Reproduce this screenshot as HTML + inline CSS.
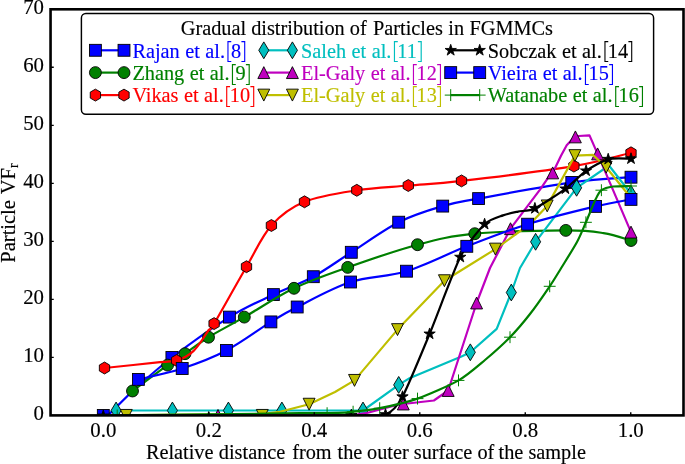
<!DOCTYPE html>
<html><head><meta charset="utf-8"><title>Gradual distribution of Particles in FGMMCs</title>
<style>html,body{margin:0;padding:0;background:#fff}svg{display:block}text{font-family:"Liberation Serif",serif;font-size:20.3px;fill:#000;stroke:#000;stroke-width:0.15px}.tl{font-size:20.8px}.br{font-family:"DejaVu Sans Light","DejaVu Sans","Liberation Sans",sans-serif;font-weight:200;font-size:23.3px;stroke:none}</style></head><body>
<svg width="685" height="464" viewBox="0 0 685 464">
<rect width="685" height="464" fill="#fff"/>
<defs><clipPath id="ax"><rect x="50.55" y="9.3" width="632.95" height="406.1"/></clipPath></defs>
<g clip-path="url(#ax)">
<path d="M103.3 415.4L108 415.4L132.5 391L132.5 391C139.07 385.42 155.75 369.82 171.9 357.5C188.05 345.18 212.48 327.58 229.4 317.1C246.32 306.62 259.42 301.33 273.4 294.6C287.38 287.87 300.32 283.75 313.3 276.7C326.28 269.65 337.07 261.38 351.3 252.3C365.53 243.22 383.47 229.9 398.7 222.2C413.93 214.5 429.38 210.03 442.7 206.1C456.02 202.17 457.08 202.55 478.6 198.6C500.12 194.65 546.4 185.97 571.8 182.4C597.2 178.83 621.13 178.07 631 177.2" fill="none" stroke="#0000ff" stroke-width="2.2" stroke-linejoin="round" stroke-linecap="butt"/>
<rect x="97.35" y="409.45" width="11.9" height="11.9" fill="#0000ff" stroke="#000" stroke-width="0.9" stroke-linejoin="miter"/>
<rect x="165.95" y="351.55" width="11.9" height="11.9" fill="#0000ff" stroke="#000" stroke-width="0.9" stroke-linejoin="miter"/>
<rect x="223.45" y="311.15" width="11.9" height="11.9" fill="#0000ff" stroke="#000" stroke-width="0.9" stroke-linejoin="miter"/>
<rect x="267.45" y="288.65" width="11.9" height="11.9" fill="#0000ff" stroke="#000" stroke-width="0.9" stroke-linejoin="miter"/>
<rect x="307.35" y="270.75" width="11.9" height="11.9" fill="#0000ff" stroke="#000" stroke-width="0.9" stroke-linejoin="miter"/>
<rect x="345.35" y="246.35" width="11.9" height="11.9" fill="#0000ff" stroke="#000" stroke-width="0.9" stroke-linejoin="miter"/>
<rect x="392.75" y="216.25" width="11.9" height="11.9" fill="#0000ff" stroke="#000" stroke-width="0.9" stroke-linejoin="miter"/>
<rect x="436.75" y="200.15" width="11.9" height="11.9" fill="#0000ff" stroke="#000" stroke-width="0.9" stroke-linejoin="miter"/>
<rect x="472.65" y="192.65" width="11.9" height="11.9" fill="#0000ff" stroke="#000" stroke-width="0.9" stroke-linejoin="miter"/>
<rect x="565.85" y="176.45" width="11.9" height="11.9" fill="#0000ff" stroke="#000" stroke-width="0.9" stroke-linejoin="miter"/>
<rect x="625.05" y="171.25" width="11.9" height="11.9" fill="#0000ff" stroke="#000" stroke-width="0.9" stroke-linejoin="miter"/>
<path d="M132.5 391C138.35 386.68 158.85 371.32 167.6 365.1C176.35 358.88 178.18 358.35 185 353.7C191.82 349.05 198.62 343.3 208.5 337.2C218.38 331.1 230.05 325.25 244.3 317.1C258.55 308.95 276.77 296.58 294 288.3C311.23 280.02 327.12 274.67 347.7 267.4C368.28 260.13 396.32 250.32 417.5 244.7C438.68 239.08 450.08 236.08 474.8 233.7C499.52 231.32 544.35 230.5 565.8 230.4C587.25 230.3 592.63 231.42 603.5 233.1C614.37 234.78 626.42 239.27 631 240.5" fill="none" stroke="#008000" stroke-width="2.2" stroke-linejoin="round" stroke-linecap="butt"/>
<circle cx="132.5" cy="391" r="5.95" fill="#008000" stroke="#000" stroke-width="0.9" stroke-linejoin="miter"/>
<circle cx="167.6" cy="365.1" r="5.95" fill="#008000" stroke="#000" stroke-width="0.9" stroke-linejoin="miter"/>
<circle cx="185" cy="353.7" r="5.95" fill="#008000" stroke="#000" stroke-width="0.9" stroke-linejoin="miter"/>
<circle cx="208.5" cy="337.2" r="5.95" fill="#008000" stroke="#000" stroke-width="0.9" stroke-linejoin="miter"/>
<circle cx="244.3" cy="317.1" r="5.95" fill="#008000" stroke="#000" stroke-width="0.9" stroke-linejoin="miter"/>
<circle cx="294" cy="288.3" r="5.95" fill="#008000" stroke="#000" stroke-width="0.9" stroke-linejoin="miter"/>
<circle cx="347.7" cy="267.4" r="5.95" fill="#008000" stroke="#000" stroke-width="0.9" stroke-linejoin="miter"/>
<circle cx="417.5" cy="244.7" r="5.95" fill="#008000" stroke="#000" stroke-width="0.9" stroke-linejoin="miter"/>
<circle cx="474.8" cy="233.7" r="5.95" fill="#008000" stroke="#000" stroke-width="0.9" stroke-linejoin="miter"/>
<circle cx="565.8" cy="230.4" r="5.95" fill="#008000" stroke="#000" stroke-width="0.9" stroke-linejoin="miter"/>
<circle cx="631" cy="240.5" r="5.95" fill="#008000" stroke="#000" stroke-width="0.9" stroke-linejoin="miter"/>
<path d="M104.5 368C113.75 367.03 147.98 363.45 160 362.2C172.02 360.95 172.27 361.45 176.6 360.5C180.93 359.55 183.17 358.1 186 356.5C188.83 354.9 191.07 353.42 193.6 350.9C196.13 348.38 198.68 344.88 201.2 341.4C203.72 337.92 206.55 332.97 208.7 330C210.85 327.03 207.8 334.15 214.1 323.6C220.4 313.05 236.95 283.05 246.5 266.7C256.05 250.35 261.73 236.32 271.4 225.5C281.07 214.68 290.27 207.67 304.5 201.8C318.73 195.93 339.5 193.02 356.8 190.3C374.1 187.58 390.85 187.07 408.3 185.5C425.75 183.93 433.9 184.13 461.5 180.9C489.1 177.67 545.65 170.78 573.9 166.1C602.15 161.42 621.48 155.02 631 152.8" fill="none" stroke="#ff0000" stroke-width="2.2" stroke-linejoin="round" stroke-linecap="butt"/>
<polygon points="104.5,362.05 109.65,365.02 109.65,370.98 104.5,373.95 99.35,370.98 99.35,365.02" fill="#ff0000" stroke="#000" stroke-width="0.9" stroke-linejoin="miter"/>
<polygon points="176.6,354.55 181.75,357.52 181.75,363.48 176.6,366.45 171.45,363.48 171.45,357.52" fill="#ff0000" stroke="#000" stroke-width="0.9" stroke-linejoin="miter"/>
<polygon points="214.1,317.65 219.25,320.62 219.25,326.58 214.1,329.55 208.95,326.58 208.95,320.62" fill="#ff0000" stroke="#000" stroke-width="0.9" stroke-linejoin="miter"/>
<polygon points="246.5,260.75 251.65,263.72 251.65,269.68 246.5,272.65 241.35,269.68 241.35,263.72" fill="#ff0000" stroke="#000" stroke-width="0.9" stroke-linejoin="miter"/>
<polygon points="271.4,219.55 276.55,222.53 276.55,228.47 271.4,231.45 266.25,228.47 266.25,222.53" fill="#ff0000" stroke="#000" stroke-width="0.9" stroke-linejoin="miter"/>
<polygon points="304.5,195.85 309.65,198.83 309.65,204.78 304.5,207.75 299.35,204.78 299.35,198.83" fill="#ff0000" stroke="#000" stroke-width="0.9" stroke-linejoin="miter"/>
<polygon points="356.8,184.35 361.95,187.33 361.95,193.28 356.8,196.25 351.65,193.28 351.65,187.33" fill="#ff0000" stroke="#000" stroke-width="0.9" stroke-linejoin="miter"/>
<polygon points="408.3,179.55 413.45,182.53 413.45,188.47 408.3,191.45 403.15,188.47 403.15,182.53" fill="#ff0000" stroke="#000" stroke-width="0.9" stroke-linejoin="miter"/>
<polygon points="461.5,174.95 466.65,177.93 466.65,183.88 461.5,186.85 456.35,183.88 456.35,177.93" fill="#ff0000" stroke="#000" stroke-width="0.9" stroke-linejoin="miter"/>
<polygon points="573.9,160.15 579.05,163.12 579.05,169.07 573.9,172.05 568.75,169.07 568.75,163.12" fill="#ff0000" stroke="#000" stroke-width="0.9" stroke-linejoin="miter"/>
<polygon points="631,146.85 636.15,149.83 636.15,155.78 631,158.75 625.85,155.78 625.85,149.83" fill="#ff0000" stroke="#000" stroke-width="0.9" stroke-linejoin="miter"/>
<path d="M116.1 410.5L363 410.5L398.7 384.9L410 377.9L461.5 356.5L470.3 352.3L496.7 328.9L511.3 292.5L520 268L535.6 241.8L576.6 187.8L609 165.5L631 193.8" fill="none" stroke="#00bfbf" stroke-width="2.2" stroke-linejoin="round" stroke-linecap="butt"/>
<polygon points="116.1,402.09 121.15,410.5 116.1,418.91 111.05,410.5" fill="#00bfbf" stroke="#000" stroke-width="0.9" stroke-linejoin="miter"/>
<polygon points="172.4,402.09 177.45,410.5 172.4,418.91 167.35,410.5" fill="#00bfbf" stroke="#000" stroke-width="0.9" stroke-linejoin="miter"/>
<polygon points="228.4,402.09 233.45,410.5 228.4,418.91 223.35,410.5" fill="#00bfbf" stroke="#000" stroke-width="0.9" stroke-linejoin="miter"/>
<polygon points="281.9,402.09 286.95,410.5 281.9,418.91 276.85,410.5" fill="#00bfbf" stroke="#000" stroke-width="0.9" stroke-linejoin="miter"/>
<polygon points="363,402.09 368.05,410.5 363,418.91 357.95,410.5" fill="#00bfbf" stroke="#000" stroke-width="0.9" stroke-linejoin="miter"/>
<polygon points="398.7,376.49 403.75,384.9 398.7,393.31 393.65,384.9" fill="#00bfbf" stroke="#000" stroke-width="0.9" stroke-linejoin="miter"/>
<polygon points="470.3,343.89 475.35,352.3 470.3,360.71 465.25,352.3" fill="#00bfbf" stroke="#000" stroke-width="0.9" stroke-linejoin="miter"/>
<polygon points="511.3,284.09 516.35,292.5 511.3,300.91 506.25,292.5" fill="#00bfbf" stroke="#000" stroke-width="0.9" stroke-linejoin="miter"/>
<polygon points="535.6,233.39 540.65,241.8 535.6,250.21 530.55,241.8" fill="#00bfbf" stroke="#000" stroke-width="0.9" stroke-linejoin="miter"/>
<polygon points="576.6,179.39 581.65,187.8 576.6,196.21 571.55,187.8" fill="#00bfbf" stroke="#000" stroke-width="0.9" stroke-linejoin="miter"/>
<polygon points="631,185.39 636.05,193.8 631,202.21 625.95,193.8" fill="#00bfbf" stroke="#000" stroke-width="0.9" stroke-linejoin="miter"/>
<path d="M103.3 415.4L351.5 415.4L366 413.2L397.8 404.8L403.3 404L433.9 400.5L448.2 390.5L476.6 303L490 268L510.5 228.7L540 189.6L548.9 176.7L552.7 172.9L561 155.7L566.7 145.2L572.3 139.2L575.4 136.9L578.8 136L589.5 135.4L597.6 153.9L631 232.1" fill="none" stroke="#bf00bf" stroke-width="2.2" stroke-linejoin="round" stroke-linecap="butt"/>
<polygon points="218,409.45 212.05,421.35 223.95,421.35" fill="#bf00bf" stroke="#000" stroke-width="0.9" stroke-linejoin="miter"/>
<polygon points="351.5,409.45 345.55,421.35 357.45,421.35" fill="#bf00bf" stroke="#000" stroke-width="0.9" stroke-linejoin="miter"/>
<polygon points="403.3,398.05 397.35,409.95 409.25,409.95" fill="#bf00bf" stroke="#000" stroke-width="0.9" stroke-linejoin="miter"/>
<polygon points="448.2,384.55 442.25,396.45 454.15,396.45" fill="#bf00bf" stroke="#000" stroke-width="0.9" stroke-linejoin="miter"/>
<polygon points="476.6,297.05 470.65,308.95 482.55,308.95" fill="#bf00bf" stroke="#000" stroke-width="0.9" stroke-linejoin="miter"/>
<polygon points="510.5,222.75 504.55,234.65 516.45,234.65" fill="#bf00bf" stroke="#000" stroke-width="0.9" stroke-linejoin="miter"/>
<polygon points="552.7,166.95 546.75,178.85 558.65,178.85" fill="#bf00bf" stroke="#000" stroke-width="0.9" stroke-linejoin="miter"/>
<polygon points="575.4,130.95 569.45,142.85 581.35,142.85" fill="#bf00bf" stroke="#000" stroke-width="0.9" stroke-linejoin="miter"/>
<polygon points="597.6,147.95 591.65,159.85 603.55,159.85" fill="#bf00bf" stroke="#000" stroke-width="0.9" stroke-linejoin="miter"/>
<polygon points="631,226.15 625.05,238.05 636.95,238.05" fill="#bf00bf" stroke="#000" stroke-width="0.9" stroke-linejoin="miter"/>
<path d="M103.3 415.4L262 414L280 411.8L309.1 404.2L335 392L354.5 380.4L397.5 329.6L444.4 280.7L495.4 249.1L530 224L547.2 205.9L574.9 155.6L592.9 154.9L606.2 167.2L631 198" fill="none" stroke="#bfbf00" stroke-width="2.2" stroke-linejoin="round" stroke-linecap="butt"/>
<polygon points="126.3,421.35 120.35,409.45 132.25,409.45" fill="#bfbf00" stroke="#000" stroke-width="0.9" stroke-linejoin="miter"/>
<polygon points="262.3,421.35 256.35,409.45 268.25,409.45" fill="#bfbf00" stroke="#000" stroke-width="0.9" stroke-linejoin="miter"/>
<polygon points="309.1,410.15 303.15,398.25 315.05,398.25" fill="#bfbf00" stroke="#000" stroke-width="0.9" stroke-linejoin="miter"/>
<polygon points="354.5,386.35 348.55,374.45 360.45,374.45" fill="#bfbf00" stroke="#000" stroke-width="0.9" stroke-linejoin="miter"/>
<polygon points="397.5,335.55 391.55,323.65 403.45,323.65" fill="#bfbf00" stroke="#000" stroke-width="0.9" stroke-linejoin="miter"/>
<polygon points="444.4,286.65 438.45,274.75 450.35,274.75" fill="#bfbf00" stroke="#000" stroke-width="0.9" stroke-linejoin="miter"/>
<polygon points="495.4,255.05 489.45,243.15 501.35,243.15" fill="#bfbf00" stroke="#000" stroke-width="0.9" stroke-linejoin="miter"/>
<polygon points="547.2,211.85 541.25,199.95 553.15,199.95" fill="#bfbf00" stroke="#000" stroke-width="0.9" stroke-linejoin="miter"/>
<polygon points="574.9,161.55 568.95,149.65 580.85,149.65" fill="#bfbf00" stroke="#000" stroke-width="0.9" stroke-linejoin="miter"/>
<polygon points="606.2,173.15 600.25,161.25 612.15,161.25" fill="#bfbf00" stroke="#000" stroke-width="0.9" stroke-linejoin="miter"/>
<path d="M103.3 415.9C115.6 416.09 179.77 417.56 208.7 417.5C237.63 417.44 330.67 415.75 351.3 415.4C371.93 415.05 379.53 416.68 385.5 414.5C391.47 412.32 397.36 406.1 402.5 396.7C407.64 387.3 422.86 350.19 429.6 333.9C436.34 317.61 453.88 269.9 460.3 257.1C466.72 244.3 479.62 229.06 484.6 224.2C489.58 219.33 499.1 216.87 503 215.4C506.9 213.93 514.28 212.42 518 211.6C521.72 210.78 529.37 211.06 534.9 208.4C540.43 205.74 559.43 193.19 565.4 188.8C571.37 184.41 581.11 174.25 586.1 170.8C591.09 167.35 602.96 160.61 608.2 159.2C613.44 157.79 628.34 158.76 631 158.7" fill="none" stroke="#000000" stroke-width="2.2" stroke-linejoin="round" stroke-linecap="butt"/>
<polygon points="103.3,409.95 104.64,414.06 108.96,414.06 105.46,416.6 106.8,420.71 103.3,418.17 99.8,420.71 101.14,416.6 97.64,414.06 101.96,414.06" fill="#000000" stroke="#000" stroke-width="0.9" stroke-linejoin="miter"/>
<polygon points="208.7,411.55 210.04,415.66 214.36,415.66 210.86,418.2 212.2,422.31 208.7,419.77 205.2,422.31 206.54,418.2 203.04,415.66 207.36,415.66" fill="#000000" stroke="#000" stroke-width="0.9" stroke-linejoin="miter"/>
<polygon points="351.3,409.45 352.64,413.56 356.96,413.56 353.46,416.1 354.8,420.21 351.3,417.67 347.8,420.21 349.14,416.1 345.64,413.56 349.96,413.56" fill="#000000" stroke="#000" stroke-width="0.9" stroke-linejoin="miter"/>
<polygon points="385.5,408.55 386.84,412.66 391.16,412.66 387.66,415.2 389,419.31 385.5,416.77 382,419.31 383.34,415.2 379.84,412.66 384.16,412.66" fill="#000000" stroke="#000" stroke-width="0.9" stroke-linejoin="miter"/>
<polygon points="402.5,390.75 403.84,394.86 408.16,394.86 404.66,397.4 406,401.51 402.5,398.97 399,401.51 400.34,397.4 396.84,394.86 401.16,394.86" fill="#000000" stroke="#000" stroke-width="0.9" stroke-linejoin="miter"/>
<polygon points="429.6,327.95 430.94,332.06 435.26,332.06 431.76,334.6 433.1,338.71 429.6,336.17 426.1,338.71 427.44,334.6 423.94,332.06 428.26,332.06" fill="#000000" stroke="#000" stroke-width="0.9" stroke-linejoin="miter"/>
<polygon points="460.3,251.15 461.64,255.26 465.96,255.26 462.46,257.8 463.8,261.91 460.3,259.37 456.8,261.91 458.14,257.8 454.64,255.26 458.96,255.26" fill="#000000" stroke="#000" stroke-width="0.9" stroke-linejoin="miter"/>
<polygon points="484.6,218.25 485.94,222.36 490.26,222.36 486.76,224.9 488.1,229.01 484.6,226.47 481.1,229.01 482.44,224.9 478.94,222.36 483.26,222.36" fill="#000000" stroke="#000" stroke-width="0.9" stroke-linejoin="miter"/>
<polygon points="534.9,202.45 536.24,206.56 540.56,206.56 537.06,209.1 538.4,213.21 534.9,210.67 531.4,213.21 532.74,209.1 529.24,206.56 533.56,206.56" fill="#000000" stroke="#000" stroke-width="0.9" stroke-linejoin="miter"/>
<polygon points="565.4,182.85 566.74,186.96 571.06,186.96 567.56,189.5 568.9,193.61 565.4,191.07 561.9,193.61 563.24,189.5 559.74,186.96 564.06,186.96" fill="#000000" stroke="#000" stroke-width="0.9" stroke-linejoin="miter"/>
<polygon points="586.1,164.85 587.44,168.96 591.76,168.96 588.26,171.5 589.6,175.61 586.1,173.07 582.6,175.61 583.94,171.5 580.44,168.96 584.76,168.96" fill="#000000" stroke="#000" stroke-width="0.9" stroke-linejoin="miter"/>
<polygon points="608.2,153.25 609.54,157.36 613.86,157.36 610.36,159.9 611.7,164.01 608.2,161.47 604.7,164.01 606.04,159.9 602.54,157.36 606.86,157.36" fill="#000000" stroke="#000" stroke-width="0.9" stroke-linejoin="miter"/>
<polygon points="631,152.75 632.34,156.86 636.66,156.86 633.16,159.4 634.5,163.51 631,160.97 627.5,163.51 628.84,159.4 625.34,156.86 629.66,156.86" fill="#000000" stroke="#000" stroke-width="0.9" stroke-linejoin="miter"/>
<path d="M138.4 379.4C145.7 377.58 167.53 373.32 182.2 368.5C196.87 363.68 211.62 358.27 226.4 350.5C241.18 342.73 259.1 329.15 270.9 321.9C282.7 314.65 283.93 313.65 297.2 307C310.47 300.35 332.28 287.97 350.5 282C368.72 276.03 387.12 277.15 406.5 271.2C425.88 265.25 446.62 254.13 466.8 246.3C486.98 238.47 506.15 230.85 527.6 224.2C549.05 217.55 578.27 210.53 595.5 206.4C612.73 202.27 625.08 200.57 631 199.4" fill="none" stroke="#0000ff" stroke-width="2.2" stroke-linejoin="round" stroke-linecap="butt"/>
<rect x="132.45" y="373.45" width="11.9" height="11.9" fill="#0000ff" stroke="#000" stroke-width="0.9" stroke-linejoin="miter"/>
<rect x="176.25" y="362.55" width="11.9" height="11.9" fill="#0000ff" stroke="#000" stroke-width="0.9" stroke-linejoin="miter"/>
<rect x="220.45" y="344.55" width="11.9" height="11.9" fill="#0000ff" stroke="#000" stroke-width="0.9" stroke-linejoin="miter"/>
<rect x="264.95" y="315.95" width="11.9" height="11.9" fill="#0000ff" stroke="#000" stroke-width="0.9" stroke-linejoin="miter"/>
<rect x="291.25" y="301.05" width="11.9" height="11.9" fill="#0000ff" stroke="#000" stroke-width="0.9" stroke-linejoin="miter"/>
<rect x="344.55" y="276.05" width="11.9" height="11.9" fill="#0000ff" stroke="#000" stroke-width="0.9" stroke-linejoin="miter"/>
<rect x="400.55" y="265.25" width="11.9" height="11.9" fill="#0000ff" stroke="#000" stroke-width="0.9" stroke-linejoin="miter"/>
<rect x="460.85" y="240.35" width="11.9" height="11.9" fill="#0000ff" stroke="#000" stroke-width="0.9" stroke-linejoin="miter"/>
<rect x="521.65" y="218.25" width="11.9" height="11.9" fill="#0000ff" stroke="#000" stroke-width="0.9" stroke-linejoin="miter"/>
<rect x="589.55" y="200.45" width="11.9" height="11.9" fill="#0000ff" stroke="#000" stroke-width="0.9" stroke-linejoin="miter"/>
<rect x="625.05" y="193.45" width="11.9" height="11.9" fill="#0000ff" stroke="#000" stroke-width="0.9" stroke-linejoin="miter"/>
<path d="M103.3 415.4C105.15 415.4 90.97 415.69 117.2 415.4C143.43 415.11 272.01 413.52 300 413.2C327.99 412.88 321.1 413.08 327.1 413C333.1 412.92 341.53 412.77 345 412.6C348.47 412.43 348.47 412.29 353.1 411.7C357.73 411.11 371.11 409.95 379.7 408.2C388.29 406.45 406.99 402.31 417.5 398.6C428.01 394.89 449.5 385.55 458.5 380.4C467.5 375.25 478.13 365.76 485 360C491.87 354.24 504 343.33 510 337.2C516 331.07 524.71 320.79 530 314C535.29 307.21 545.54 292.43 549.7 286.3C553.86 280.17 557.56 273.91 561.2 268C564.84 262.09 573.71 248.09 577 242C580.29 235.91 583.43 227.95 585.9 222.3C588.37 216.65 593.43 203.88 595.5 199.6C597.57 195.32 599.07 191.95 601.4 190.2C603.73 188.45 609.05 187.06 613 186.5C616.95 185.94 628.6 186.07 631 186" fill="none" stroke="#008000" stroke-width="2.2" stroke-linejoin="round" stroke-linecap="butt"/>
<path d="M111.25 415.4H123.15M117.2 409.45V421.35" stroke="#008000" stroke-width="1.0" fill="none"/>
<path d="M321.15 413.2H333.05M327.1 407.25V419.15" stroke="#008000" stroke-width="1.0" fill="none"/>
<path d="M347.15 411.7H359.05M353.1 405.75V417.65" stroke="#008000" stroke-width="1.0" fill="none"/>
<path d="M373.75 408.2H385.65M379.7 402.25V414.15" stroke="#008000" stroke-width="1.0" fill="none"/>
<path d="M411.55 398.6H423.45M417.5 392.65V404.55" stroke="#008000" stroke-width="1.0" fill="none"/>
<path d="M452.55 380.4H464.45M458.5 374.45V386.35" stroke="#008000" stroke-width="1.0" fill="none"/>
<path d="M504.05 337.2H515.95M510 331.25V343.15" stroke="#008000" stroke-width="1.0" fill="none"/>
<path d="M543.75 286.3H555.65M549.7 280.35V292.25" stroke="#008000" stroke-width="1.0" fill="none"/>
<path d="M579.95 222.3H591.85M585.9 216.35V228.25" stroke="#008000" stroke-width="1.0" fill="none"/>
<path d="M595.45 190.2H607.35M601.4 184.25V196.15" stroke="#008000" stroke-width="1.0" fill="none"/>
<path d="M625.05 186H636.95M631 180.05V191.95" stroke="#008000" stroke-width="1.0" fill="none"/>
</g>
<path d="M103.3 415.4v-3.2M208.79 415.4v-3.2M314.28 415.4v-3.2M419.77 415.4v-3.2M525.26 415.4v-3.2M630.75 415.4v-3.2M50.55 357.39h3.2M50.55 299.37h3.2M50.55 241.36h3.2M50.55 183.34h3.2M50.55 125.33h3.2M50.55 67.31h3.2" stroke="#000" stroke-width="1.4" fill="none"/>
<rect x="50.55" y="9.3" width="632.95" height="406.1" fill="none" stroke="#000" stroke-width="2.6"/>
<text x="103.3" y="436.7" text-anchor="middle" class="tl">0.0</text>
<text x="208.79" y="436.7" text-anchor="middle" class="tl">0.2</text>
<text x="314.28" y="436.7" text-anchor="middle" class="tl">0.4</text>
<text x="419.77" y="436.7" text-anchor="middle" class="tl">0.6</text>
<text x="525.26" y="436.7" text-anchor="middle" class="tl">0.8</text>
<text x="630.75" y="436.7" text-anchor="middle" class="tl">1.0</text>
<text x="44" y="420.4" text-anchor="end" class="tl">0</text>
<text x="44" y="362.39" text-anchor="end" class="tl">10</text>
<text x="44" y="304.37" text-anchor="end" class="tl">20</text>
<text x="44" y="246.36" text-anchor="end" class="tl">30</text>
<text x="44" y="188.34" text-anchor="end" class="tl">40</text>
<text x="44" y="130.33" text-anchor="end" class="tl">50</text>
<text x="44" y="72.31" text-anchor="end" class="tl">60</text>
<text x="44" y="14.3" text-anchor="end" class="tl">70</text>
<text x="145.9" y="459">Relative <tspan dx="0.3">distance </tspan><tspan dx="1.8">from </tspan><tspan dx="0.9">the </tspan><tspan dx="-0.4">outer </tspan><tspan dx="0">surface </tspan><tspan dx="0">of </tspan><tspan dx="-0.8">the </tspan><tspan dx="0">sample</tspan></text>
<text transform="translate(15.4 262.7) rotate(-90)" style="word-spacing:1px;font-size:20.5px">Particle VF<tspan font-size="14.2px" dy="3">r</tspan></text>
<rect x="81.4" y="13.5" width="572.2" height="100.7" rx="4.5" ry="4.5" fill="#fff" stroke="#000" stroke-width="1.45"/>
<text x="180.8" y="35.3">Gradual <tspan dx="0">distribution </tspan><tspan dx="0">of </tspan><tspan dx="1.2">Particles </tspan><tspan dx="0.4">in </tspan><tspan dx="0.4">FGMMCs</tspan></text>
<path d="M95.4 50.3H124" stroke="#0000ff" stroke-width="2.2"/>
<rect x="89.45" y="44.35" width="11.9" height="11.9" fill="#0000ff" stroke="#000" stroke-width="0.9" stroke-linejoin="miter"/>
<rect x="118.05" y="44.35" width="11.9" height="11.9" fill="#0000ff" stroke="#000" stroke-width="0.9" stroke-linejoin="miter"/>
<text x="132.4" y="57.5" style="fill:#0000ff;stroke:#0000ff;word-spacing:0.4px">Rajan et al.<tspan x="224.82" dy="1.7" class="br">[</tspan><tspan x="230.98" dy="-1.7">8</tspan><tspan x="238.72" dy="1.7" class="br">]</tspan></text>
<path d="M95.4 72.6H124" stroke="#008000" stroke-width="2.2"/>
<circle cx="95.4" cy="72.6" r="5.95" fill="#008000" stroke="#000" stroke-width="0.9" stroke-linejoin="miter"/>
<circle cx="124" cy="72.6" r="5.95" fill="#008000" stroke="#000" stroke-width="0.9" stroke-linejoin="miter"/>
<text x="132.4" y="79.8" style="fill:#008000;stroke:#008000;word-spacing:0.4px">Zhang et al.<tspan x="229.33" dy="1.7" class="br">[</tspan><tspan x="235.49" dy="-1.7">9</tspan><tspan x="243.23" dy="1.7" class="br">]</tspan></text>
<path d="M95.4 95.1H124" stroke="#ff0000" stroke-width="2.2"/>
<polygon points="95.4,89.15 100.55,92.12 100.55,98.07 95.4,101.05 90.25,98.08 90.25,92.12" fill="#ff0000" stroke="#000" stroke-width="0.9" stroke-linejoin="miter"/>
<polygon points="124,89.15 129.15,92.12 129.15,98.07 124,101.05 118.85,98.08 118.85,92.12" fill="#ff0000" stroke="#000" stroke-width="0.9" stroke-linejoin="miter"/>
<text x="132.4" y="102.3" style="fill:#ff0000;stroke:#ff0000;word-spacing:0.4px">Vikas et al.<tspan x="223.61" dy="1.7" class="br">[</tspan><tspan x="229.77" dy="-1.7">10</tspan><tspan x="247.66" dy="1.7" class="br">]</tspan></text>
<path d="M263.8 50.3H292.4" stroke="#00bfbf" stroke-width="2.2"/>
<polygon points="263.8,41.89 268.85,50.3 263.8,58.71 258.75,50.3" fill="#00bfbf" stroke="#000" stroke-width="0.9" stroke-linejoin="miter"/>
<polygon points="292.4,41.89 297.45,50.3 292.4,58.71 287.35,50.3" fill="#00bfbf" stroke="#000" stroke-width="0.9" stroke-linejoin="miter"/>
<text x="301" y="57.5" style="fill:#00bfbf;stroke:#00bfbf;word-spacing:0.4px">Saleh et al.<tspan x="391.17" dy="1.7" class="br">[</tspan><tspan x="397.33" dy="-1.7">11</tspan><tspan x="415.22" dy="1.7" class="br">]</tspan></text>
<path d="M263.8 72.6H292.4" stroke="#bf00bf" stroke-width="2.2"/>
<polygon points="263.8,66.65 257.85,78.55 269.75,78.55" fill="#bf00bf" stroke="#000" stroke-width="0.9" stroke-linejoin="miter"/>
<polygon points="292.4,66.65 286.45,78.55 298.35,78.55" fill="#bf00bf" stroke="#000" stroke-width="0.9" stroke-linejoin="miter"/>
<text x="301" y="79.8" style="fill:#bf00bf;stroke:#bf00bf;word-spacing:0.4px">El-Galy et al.<tspan x="410.33" dy="1.7" class="br">[</tspan><tspan x="416.49" dy="-1.7">12</tspan><tspan x="434.38" dy="1.7" class="br">]</tspan></text>
<path d="M263.8 95.1H292.4" stroke="#bfbf00" stroke-width="2.2"/>
<polygon points="263.8,101.05 257.85,89.15 269.75,89.15" fill="#bfbf00" stroke="#000" stroke-width="0.9" stroke-linejoin="miter"/>
<polygon points="292.4,101.05 286.45,89.15 298.35,89.15" fill="#bfbf00" stroke="#000" stroke-width="0.9" stroke-linejoin="miter"/>
<text x="301" y="102.3" style="fill:#bfbf00;stroke:#bfbf00;word-spacing:0.4px">El-Galy et al.<tspan x="410.33" dy="1.7" class="br">[</tspan><tspan x="416.49" dy="-1.7">13</tspan><tspan x="434.38" dy="1.7" class="br">]</tspan></text>
<path d="M450.7 50.3H479.7" stroke="#000000" stroke-width="2.2"/>
<polygon points="450.7,44.35 452.04,48.46 456.36,48.46 452.86,51 454.2,55.11 450.7,52.57 447.2,55.11 448.54,51 445.04,48.46 449.36,48.46" fill="#000000" stroke="#000" stroke-width="0.9" stroke-linejoin="miter"/>
<polygon points="479.7,44.35 481.04,48.46 485.36,48.46 481.86,51 483.2,55.11 479.7,52.57 476.2,55.11 477.54,51 474.04,48.46 478.36,48.46" fill="#000000" stroke="#000" stroke-width="0.9" stroke-linejoin="miter"/>
<text x="487.8" y="57.5" style="fill:#000000;stroke:#000000;word-spacing:0.4px">Sobczak et al.<tspan x="601.64" dy="1.7" class="br">[</tspan><tspan x="607.8" dy="-1.7">14</tspan><tspan x="625.69" dy="1.7" class="br">]</tspan></text>
<path d="M450.7 72.6H479.7" stroke="#0000ff" stroke-width="2.2"/>
<rect x="444.75" y="66.65" width="11.9" height="11.9" fill="#0000ff" stroke="#000" stroke-width="0.9" stroke-linejoin="miter"/>
<rect x="473.75" y="66.65" width="11.9" height="11.9" fill="#0000ff" stroke="#000" stroke-width="0.9" stroke-linejoin="miter"/>
<text x="487.8" y="79.8" style="fill:#0000ff;stroke:#0000ff;word-spacing:0.4px">Vieira et al.<tspan x="582.37" dy="1.7" class="br">[</tspan><tspan x="588.53" dy="-1.7">15</tspan><tspan x="606.42" dy="1.7" class="br">]</tspan></text>
<path d="M450.7 95.1H479.7" stroke="#008000" stroke-width="2.2"/>
<path d="M444.75 95.1H456.65M450.7 89.15V101.05" stroke="#008000" stroke-width="1.0" fill="none"/>
<path d="M473.75 95.1H485.65M479.7 89.15V101.05" stroke="#008000" stroke-width="1.0" fill="none"/>
<text x="487.8" y="102.3" style="fill:#008000;stroke:#008000;word-spacing:0.4px">Watanabe et al.<tspan x="612.38" dy="1.7" class="br">[</tspan><tspan x="618.54" dy="-1.7">16</tspan><tspan x="636.43" dy="1.7" class="br">]</tspan></text>
</svg></body></html>
